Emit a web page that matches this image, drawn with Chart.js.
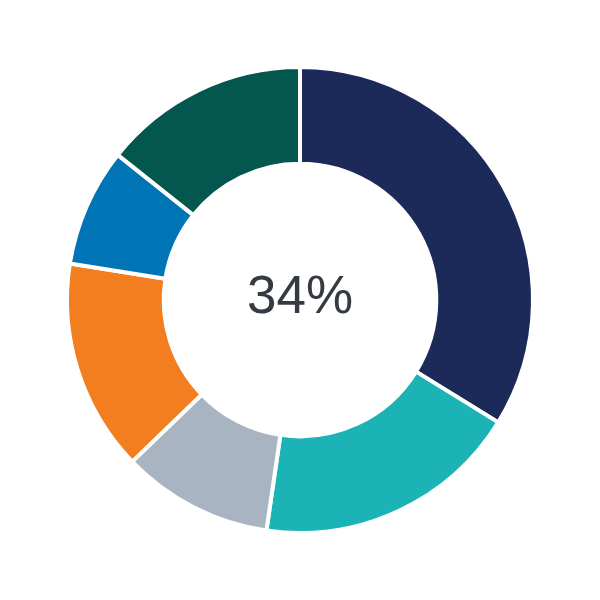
<!DOCTYPE html>
<html>
<head>
<meta charset="utf-8">
<script src="https://cdn.jsdelivr.net/npm/chart.js@4"></script>
<style>
html,body{margin:0;padding:0;background:#fff;}
#wrap{width:600px;height:600px;}
</style>
</head>
<body>
<div id="wrap"><canvas id="c" width="600" height="600"></canvas></div>
<script>
const categories = ["A", "B", "C", "D", "E", "F"];
const values = [33.8, 18.5, 10.5, 14.7, 8.2, 14.3];
const colors = ["#1c2a5a", "#1bb3b5", "#a9b4c2", "#f27e20", "#0074b5", "#03574f"];
const centerLabel = "34%";

const centerText = {
  id: "centerText",
  afterDraw(chart) {
    const ctx = chart.ctx;
    const meta = chart.getDatasetMeta(0);
    const arc = meta.data[0];
    ctx.save();
    ctx.font = "53px 'Liberation Sans', Arial, sans-serif";
    ctx.fillStyle = "#363a42";
    ctx.textAlign = "center";
    ctx.textBaseline = "middle";
    ctx.fillText(centerLabel, arc.x, arc.y - 2);
    ctx.restore();
  }
};

new Chart(document.getElementById("c"), {
  type: "doughnut",
  data: {
    labels: categories,
    datasets: [{
      data: values,
      backgroundColor: colors,
      borderColor: "#ffffff",
      borderWidth: 4
    }]
  },
  options: {
    responsive: false,
    animation: false,
    cutout: "58.5%",
    layout: { padding: 65 },
    plugins: {
      legend: { display: false },
      tooltip: { enabled: false }
    }
  },
  plugins: [centerText]
});
</script>
</body>
</html>
